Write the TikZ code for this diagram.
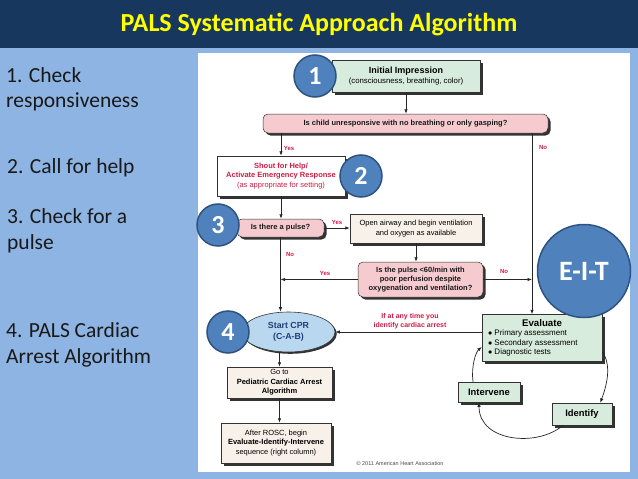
\documentclass[tikz,border=0pt]{standalone}
\usepackage{fontspec}
\setmainfont{Liberation Sans}
\newfontfamily\calib{Carlito}
\usetikzlibrary{shadows,shapes.geometric,arrows.meta,calc}
\newcommand{\fsz}[2]{\fontsize{#1}{#2}\selectfont}
\definecolor{bgblue}{HTML}{8DB4E2}
\definecolor{navy}{HTML}{17375E}
\definecolor{numblue}{HTML}{4F81BD}
\definecolor{numedge}{HTML}{2F5380}
\definecolor{greenbox}{HTML}{D8ECDD}
\definecolor{pinkbox}{HTML}{F5CBD0}
\definecolor{beige}{HTML}{F8F1E9}
\definecolor{cprblue}{HTML}{B9D7EF}
\definecolor{redtxt}{HTML}{D01C45}
\definecolor{cprtxt}{HTML}{1F3F7A}
\definecolor{titleyellow}{HTML}{FFFF00}
\begin{document}
\begin{tikzpicture}[x=1pt,y=-1pt,
  ln/.style={draw=black!85,line width=0.7pt},
  arr/.style={ln,-{Latex[length=4.5pt,width=3.5pt]}},
  box/.style={draw=black!80,line width=0.5pt,align=center,inner sep=1pt,
    drop shadow={shadow xshift=2.5pt,shadow yshift=-2.5pt,fill=black!80,opacity=1}},
  pill/.style={box,rounded corners=5pt,fill=pinkbox,text=black!90,font=\bfseries\fsz{7.5}{9}},
  num/.style={circle,fill=numblue,draw=numedge,line width=1.5pt,text=white,
    font=\calib\bfseries\fsz{26}{26},minimum size=42pt,inner sep=0pt},
  lbl/.style={text=redtxt,font=\bfseries\fsz{6}{7},inner sep=0pt},
  side/.style={anchor=base west,font=\calib\fsz{21.5}{24},inner sep=0pt,text=black!90},
  ttl/.style={font=\calib\bfseries\fsz{26}{28},text=titleyellow,inner sep=0pt}
]
\useasboundingbox (0,0) rectangle (638,479);
% backgrounds
\fill[bgblue] (0,0) rectangle (638,479);
\fill[navy] (0,0) rectangle (638,48);
\fill[white] (198,53) rectangle (630,472);

\node[ttl] (title) at (319,25) {PALS Systematic Approach Algorithm};

% left column
\node[side] (s1a) at (6,82) {1. Check};
\node[side] (s1b) at (6,107) {responsiveness};
\node[side] (s2) at (7,173) {2. Call for help};
\node[side] (s3a) at (7,223) {3. Check for a};
\node[side] (s3b) at (7,249) {pulse};
\node[side] (s4a) at (6,337) {4. PALS Cardiac};
\node[side] (s4b) at (6,363) {Arrest Algorithm};

% flowchart boxes
\node[box,fill=greenbox,minimum width=148pt,minimum height=32pt,font=\fsz{7.8}{10.5}] (init) at (406,76)
  {{\fsz{9}{10.5}\bfseries Initial Impression}\\(consciousness, breathing, color)};
\node[pill,minimum width=285pt,minimum height=19pt] (q1) at (405.5,123.5)
  {Is child unresponsive with no breathing or only gasping?};
\node[box,fill=white,minimum width=128pt,minimum height=40pt,text=redtxt,font=\fsz{7.5}{9.5}] (shout) at (281,176)
  {\bfseries Shout for Help/\\\bfseries Activate Emergency Response\\(as appropriate for setting)};
\node[pill,minimum width=87pt,minimum height=18pt] (pulse) at (280.5,228) {Is there a pulse?};
\node[box,fill=beige,minimum width=132pt,minimum height=29pt,font=\fsz{7.5}{9.5}] (airway) at (416,228.5)
  {Open airway and begin ventilation\\and oxygen as available};
\node[pill,minimum width=125pt,minimum height=35pt] (q2) at (420.5,279.5)
  {Is the pulse {\textless}60/min with\\poor perfusion despite\\oxygenation and ventilation?};
\node[ellipse,draw=black!80,line width=0.6pt,fill=cprblue,minimum width=93pt,minimum height=40pt,inner sep=0pt,
  align=center,text=cprtxt,font=\bfseries\fsz{8.8}{11},
  drop shadow={shadow xshift=1.8pt,shadow yshift=-1.8pt,fill=black!80,opacity=1}] (cpr) at (288.5,332)
  {Start CPR\\(C-A-B)};
\node[box,fill=beige,minimum width=105pt,minimum height=31pt,font=\fsz{7.5}{9.5}] (goto) at (279.5,382.5)
  {Go to\\\bfseries Pediatric Cardiac Arrest\\\bfseries Algorithm};
\node[box,fill=beige,minimum width=110pt,minimum height=40pt,font=\fsz{7.5}{9.5}] (rosc) at (276,443)
  {After ROSC, begin\\\bfseries Evaluate-Identify-Intervene\\sequence (right column)};
\node[box,fill=greenbox,minimum width=120pt,minimum height=47pt,align=left,font=\fsz{8}{9.5}] (eval) at (542,338)
  {\makebox[108pt][c]{\fsz{9.7}{11}\bfseries Evaluate}\\$\bullet$ Primary assessment\\$\bullet$ Secondary assessment\\$\bullet$ Diagnostic tests};
\node[box,fill=greenbox,minimum width=62pt,minimum height=20pt,font=\bfseries\fsz{9.4}{11}] (interv) at (489,392) {Intervene};
\node[box,fill=greenbox,minimum width=60pt,minimum height=22pt,font=\bfseries\fsz{9.4}{11}] (ident) at (582,414) {Identify};

\node[text=redtxt,font=\bfseries\fsz{7}{9},align=center,inner sep=0pt] (anytime) at (410,321)
  {If at any time you\\identify cardiac arrest};
\node[text=black!70,font=\fsz{5.5}{6},inner sep=0pt] (copy) at (400,464) {\textcopyright\ 2011 American Heart Association};

% connectors
\coordinate (nox) at (532,0);
\draw[arr] (init.south) -- (init.south |- q1.north);
\draw[arr] (q1.south -| shout.north) -- (shout.north);
\draw[arr] (q1.south -| nox) -- (nox |- eval.north);
\draw[arr] (shout.south) -- (shout.south |- pulse.north);
\draw[arr] (pulse.east) -- (pulse.east -| airway.west);
\draw[arr] (airway.south) -- (airway.south |- q2.north);
\draw[arr] (pulse.south) -- (pulse.south |- cpr.north);
\draw[arr] (q2.west) -- (q2.west -| pulse.south);
\draw[arr] (q2.east) -- (q2.east -| nox);
\draw[arr] (eval.west |- cpr.east) -- (cpr.east);
\draw[arr] (goto.north |- cpr.south) -- (goto.north);
\draw[arr] (goto.south) -- (goto.south |- rosc.north);
% cycle
\draw[arr] ([yshift=10pt]eval.south east) .. controls +(10,14) and +(6,-16) .. ([xshift=-12pt]ident.north east);
\draw[arr] ([xshift=-19pt]ident.south) .. controls +(-25,22) and +(0,40) .. ([xshift=-10pt]interv.south);
\draw[arr] ([xshift=-16pt]interv.north) .. controls +(-2,-15) and +(-6,5) .. ([yshift=-9pt]eval.west);

% labels
\node[lbl] (y1) at (289,148) {Yes};
\node[lbl] (n1) at (543,147) {No};
\node[lbl] (y2) at (337,222) {Yes};
\node[lbl] (n2) at (290,254) {No};
\node[lbl] (y3) at (325,273) {Yes};
\node[lbl] (n3) at (504,271) {No};

% numbered circles
\node[num] (c1) at (315,76) {1};
\node[num] (c2) at (361,176) {2};
\node[num] (c3) at (218,225) {3};
\node[num] (c4) at (228,332) {4};
\node[num,minimum size=93pt,font=\calib\bfseries\fsz{28}{28}] (eit) at (584,271) {E-I-T};
\end{tikzpicture}
\end{document}
